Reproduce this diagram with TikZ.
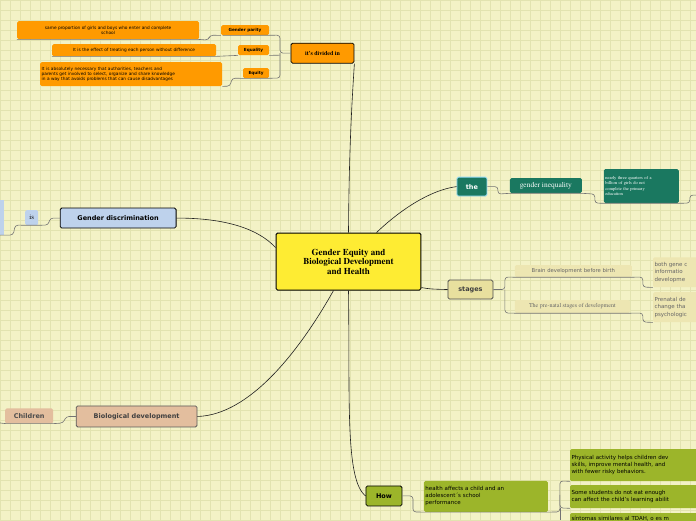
\documentclass[tikz,border=0pt]{standalone}
\usepackage{fontspec}
\setmainfont{TeX Gyre Termes}
\setsansfont{DejaVu Sans}
\begin{document}
\begin{tikzpicture}[x=1pt,y=-1pt,
 bx/.style={rounded corners=1.5pt,inner sep=1.5pt,align=center,font=\sffamily},
 conn/.style={draw=black!55,line width=0.6pt,rounded corners=3pt},
 main/.style={draw=black!75!gray,line width=0.6pt}]
\definecolor{bg}{HTML}{F3F2C6}
\definecolor{gl}{HTML}{E2E3B0}
\definecolor{org}{HTML}{FF9A00}
\definecolor{teal}{HTML}{1A7860}
\definecolor{tan}{HTML}{E8E09E}
\definecolor{ltan}{HTML}{EDE6B2}
\definecolor{blu}{HTML}{BED2EC}
\definecolor{brn}{HTML}{E3BE9E}
\definecolor{grn}{HTML}{9CB52A}
\fill[bg] (0,0) rectangle (696,520);
\foreach \i in {0,10,...,690} \draw[gl,line width=0.4pt] (\i,0) -- (\i,520);
\foreach \j in {0,10,...,520} \draw[gl,line width=0.4pt] (0,\j) -- (696,\j);
\useasboundingbox (0,0) rectangle (696,520);
% central
\node[bx,draw=black,line width=1pt,fill=yellow!90!orange!80,font=\rmfamily\bfseries\fontsize{9}{9.5}\selectfont,minimum width=145,minimum height=57] (c) at (348.5,261.5) {Gender Equity and\\Biological Development\\and Health};
% top branch
\node[bx,draw=black,line width=0.8pt,fill=org,font=\rmfamily\bfseries\fontsize{6}{7}\selectfont,minimum width=63,minimum height=20] (div) at (322.5,53) {it's divided in};
\node[bx,fill=org,font=\sffamily\bfseries\fontsize{4.2}{5}\selectfont,minimum width=48,minimum height=10] (gp) at (245,30) {Gender parity};
\node[bx,fill=org,font=\sffamily\bfseries\fontsize{4.2}{5}\selectfont,minimum width=31,minimum height=10] (eql) at (253.5,50) {Equality};
\node[bx,fill=org,font=\sffamily\bfseries\fontsize{4.2}{5}\selectfont,minimum width=26,minimum height=10] (eqt) at (256,73) {Equity};
\node[bx,fill=org,font=\sffamily\fontsize{4.3}{5.3}\selectfont,minimum width=182,minimum height=18] (t1) at (108,30) {same proportion of girls and boys who enter and complete\\school};
\node[bx,fill=org,font=\sffamily\fontsize{4.3}{5.3}\selectfont,minimum width=164,minimum height=12] (t2) at (134,50) {It is the effect of treating each person without difference};
\node[bx,fill=org,font=\sffamily\fontsize{4.3}{5.3}\selectfont,text width=179,minimum height=24,align=left] (t3) at (131,74) {It is absolutely necessary that authorities, teachers and\\parents get involved to select, organize and share knowledge\\in a way that avoids problems that can cause disadvantages};
\draw[main] (c.north) .. controls (349,150) and (352,100) .. (div.south east);
\draw[conn] (div.west) -- (280,53) -- (280,35) -- (gp.south west) -- (gp.south east);
\draw[conn] (280,53) -- (280,67) -- (280,78) -- (eqt.south west);
\draw[conn] (280,55) -- (eql.south east);
\draw[conn] (eql.south west) -- (t2.south east) -- (t2.south west);
\draw[conn] (gp.south west) -- (210,35) -- (208,40) -- (t1.south east) -- (t1.south west);
\draw[conn] (eqt.south west) -- (232,78) -- (230,86) -- (t3.south east);
% right: the
\node[bx,draw=cyan!40,line width=0.8pt,fill=teal,text=white,font=\sffamily\bfseries\fontsize{6.5}{7}\selectfont,minimum width=30,minimum height=19] (the) at (472,186.5) {the};
\node[bx,fill=teal,text=white,font=\rmfamily\fontsize{7.5}{8}\selectfont,minimum width=72,minimum height=15] (gi) at (546,185.5) {gender inequality};
\node[bx,fill=teal,text=white,font=\rmfamily\fontsize{4.5}{5.5}\selectfont,text width=72,minimum height=34,align=left] (ne) at (641.5,186) {nearly three quarters of a\\billion of girls do not\\complete the primary\\education};
\draw[main] (c.north east) ++(-45,0) .. controls (400,210) and (430,190) .. (the.west);
\draw[conn] (the.east) -- (498,186.5) -- (498,194) -- (gi.south west) -- (gi.south east) -- (595,194) -- (595,203) -- (ne.south west) -- (ne.south east) -- (690,203) -- (690,195) -- (696,195);
% stages
\node[bx,draw=black!70,line width=0.8pt,fill=tan,text=black!75,font=\sffamily\bfseries\fontsize{6.5}{7}\selectfont,minimum width=45,minimum height=19] (st) at (470.5,289.5) {stages};
\node[bx,fill=ltan,text=black!60,font=\sffamily\fontsize{5.3}{6}\selectfont,minimum width=117,minimum height=12] (bd) at (573.5,271) {Brain development before birth};
\node[bx,fill=ltan,text=black!60,font=\rmfamily\fontsize{6}{6.5}\selectfont,minimum width=115,minimum height=13] (pn) at (572.5,306.5) {The pre-natal stages of development};
\node[bx,fill=ltan,text=black!60,font=\sffamily\fontsize{5.5}{7.5}\selectfont,text width=58,minimum height=30,align=left,anchor=north west] (bg) at (653,257) {both gene c\\informatio\\developme};
\node[bx,fill=ltan,text=black!60,font=\sffamily\fontsize{5.5}{7.5}\selectfont,text width=58,minimum height=30,align=left,anchor=north west] (pd) at (653,292) {Prenatal de\\change tha\\psychologic};
\draw[main] (c.east) ++(0,26) .. controls (430,289) .. (st.west);
\draw[conn] (st.east) -- (505,289.5) -- (505,277) -- (bd.south west) -- (bd.south east) -- (643,277) -- (643,287) -- (bg.south west);
\draw[conn] (505,289.5) -- (505,313) -- (pn.south west) -- (pn.south east) -- (643,313) -- (643,322) -- (pd.south west);
% left: gender discrimination
\node[bx,draw=black,line width=0.8pt,fill=blu,font=\sffamily\bfseries\fontsize{6.5}{7}\selectfont,minimum width=116,minimum height=20] (gd) at (118,218) {Gender discrimination};
\node[bx,fill=blu,font=\rmfamily\fontsize{7}{7}\selectfont,minimum width=13,minimum height=15] (is) at (31.5,217.5) {is};
\node[fill=blu,minimum width=5,minimum height=35,inner sep=0] (lb) at (1.5,217.5) {};
\draw[main] (c.west) ++(0,-14) .. controls (250,220) and (200,218) .. (gd.east);
\draw[conn] (gd.west) -- (50,218) -- (48,225) -- (is.south east) -- (is.south west) -- (15,225) -- (13,235) -- (0,235);
% biological
\node[bx,draw=black!65,line width=0.8pt,fill=brn,text=black!75,font=\sffamily\bfseries\fontsize{6.5}{7}\selectfont,minimum width=121,minimum height=21] (bio) at (136.5,416.5) {Biological development};
\node[bx,fill=brn,text=black!70,font=\sffamily\bfseries\fontsize{6.5}{7}\selectfont,minimum width=48,minimum height=15] (ch) at (29,416) {Children};
\draw[main] (c.south) ++(-15,0) .. controls (300,350) and (250,415) .. (bio.east);
\draw[conn] (bio.west) -- (66,416.5) -- (63,423) -- (ch.south east) -- (ch.south west) -- (0,423);
% how
\node[bx,draw=black,line width=0.8pt,fill=grn,font=\sffamily\bfseries\fontsize{6.5}{7}\selectfont,minimum width=36,minimum height=20] (how) at (384,496) {How};
\node[bx,fill=grn,font=\sffamily\fontsize{5.5}{7}\selectfont,text width=121,minimum height=31,align=left] (hl) at (486,496.5) {health affects a child and an\\adolescent\textasciiacute s school\\performance};
\node[bx,fill=grn,font=\sffamily\fontsize{5.5}{7}\selectfont,text width=135,minimum height=32,align=left,anchor=north west] (pa) at (570,449) {Physical activity helps children dev\\skills, improve mental health, and\\with fewer risky behaviors.};
\node[bx,fill=grn,font=\sffamily\fontsize{5.5}{7}\selectfont,text width=135,minimum height=23,align=left,anchor=north west] (ss) at (570,485) {Some students do not eat enough\\can affect the child's learning abilit};
\node[bx,fill=grn,font=\sffamily\fontsize{5.5}{7}\selectfont,text width=135,minimum height=12,align=left,anchor=north west] (si) at (570,513) {síntomas similares al TDAH, o es m};
\draw[main] (c.south) .. controls (350,400) and (345,480) .. (how.west);
\draw[conn] (how.east) -- (413,496) -- (413,512) -- (hl.south west) -- (hl.south east) -- (560,512) -- (560,481) -- (pa.south west);
\draw[conn] (560,495) -- (560,508) -- (ss.south west);
\draw[conn] (560,508) -- (560,520);
\end{tikzpicture}
\end{document}
